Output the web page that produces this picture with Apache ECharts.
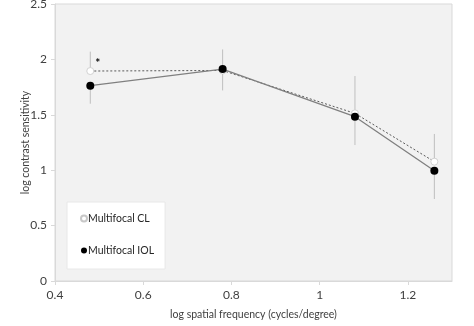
<!DOCTYPE html>
<html>
<head>
<meta charset="utf-8">
<script src="https://cdn.jsdelivr.net/npm/echarts@6/dist/echarts.min.js"></script>
<style>
  html, body { margin: 0; padding: 0; background: #fff; }
  #chart { width: 474px; height: 326px; }
</style>
</head>
<body>
<div id="chart"></div>
<script>
// log spatial frequency (cycles/degree)
const frequencies = [0.48, 0.78, 1.08, 1.26];
// mean log contrast sensitivity per lens type
const clValues  = [1.895, 1.90, 1.513, 1.077];
const iolValues = [1.763, 1.913, 1.483, 0.995];
// error bar ends: upward for CL, downward for IOL
const clUpper  = [2.07, 2.09, 1.85, 1.327];
const iolLower = [1.60, 1.72, 1.227, 0.74];
// significance marker
const starPoint = [0.497, 1.964];
const xTicks = { min: 0.4, max: 1.3, step: 0.2 };
const yTicks = { min: 0, max: 2.5, step: 0.5 };

const FONT = 'Lato';
const TEXT = '#404040';
const AXIS = '#d9d9d9';

const pairs = (xs, ys) => xs.map((x, i) => [x, ys[i]]);

const errorBars = [];
frequencies.forEach((f, i) => {
  errorBars.push([f, clValues[i], clUpper[i]]);
  errorBars.push([f, iolValues[i], iolLower[i]]);
});

const chart = echarts.init(document.getElementById('chart'), null, { renderer: 'canvas' });
chart.setOption({
  animation: false,
  textStyle: { fontFamily: FONT },
  grid: {
    left: 55, right: 22, top: 4, bottom: 45,
    outerBoundsMode: 'none',
    containLabel: false,
    show: true, backgroundColor: '#f2f2f2', borderColor: AXIS, borderWidth: 1
  },
  legend: {
    orient: 'vertical',
    left: 67, top: 202,
    backgroundColor: '#ffffff',
    borderColor: '#e8e8e8', borderWidth: 1,
    padding: [11, 11, 13, 13],
    itemGap: 21,
    itemWidth: 6, itemHeight: 6,
    icon: 'circle',
    textStyle: { fontFamily: FONT, fontSize: 10.5, color: '#262626', padding: [0, 0, 0, -4] },
    data: ['Multifocal CL', 'Multifocal IOL']
  },
  xAxis: {
    type: 'value',
    min: xTicks.min, max: xTicks.max, interval: xTicks.step,
    name: 'log spatial frequency (cycles/degree)',
    nameLocation: 'middle', nameGap: 28,
    nameMoveOverlap: false,
    nameTextStyle: { fontFamily: FONT, fontSize: 10.5, color: TEXT },
    axisLine: { show: true, lineStyle: { color: AXIS } },
    axisTick: { show: true, length: 4, lineStyle: { color: AXIS } },
    axisLabel: {
      fontFamily: FONT, fontSize: 12, color: TEXT, margin: 8,
      showMaxLabel: false,
      formatter: v => (Math.abs(v - xTicks.max) < 1e-9 ? '' : String(+v.toFixed(1)))
    },
    splitLine: { show: false }
  },
  yAxis: {
    type: 'value',
    min: yTicks.min, max: yTicks.max, interval: yTicks.step,
    name: 'log contrast sensitivity',
    nameLocation: 'middle', nameGap: 24,
    nameMoveOverlap: false,
    nameTextStyle: { fontFamily: FONT, fontSize: 10.5, color: TEXT },
    axisLine: { show: true, lineStyle: { color: AXIS } },
    axisTick: { show: true, length: 4, lineStyle: { color: AXIS } },
    axisLabel: {
      fontFamily: FONT, fontSize: 12, color: TEXT, margin: 8,
      formatter: v => String(+v.toFixed(1))
    },
    splitLine: { show: false }
  },
  series: [
    {
      type: 'custom',
      name: 'errors',
      silent: true,
      z: 1,
      data: errorBars,
      renderItem: (params, api) => {
        const a = api.coord([api.value(0), api.value(1)]);
        const b = api.coord([api.value(0), api.value(2)]);
        return {
          type: 'line',
          shape: { x1: a[0], y1: a[1], x2: b[0], y2: b[1] },
          style: { stroke: '#bfbfbf', lineWidth: 1 }
        };
      }
    },
    {
      type: 'line',
      name: 'Multifocal CL',
      z: 2,
      data: pairs(frequencies, clValues),
      symbol: 'circle', symbolSize: 7,
      itemStyle: { color: '#ffffff', borderColor: '#c8c8c8', borderWidth: 0.8 },
      lineStyle: { color: '#595959', width: 1, type: [2, 2] }
    },
    {
      type: 'line',
      name: 'Multifocal IOL',
      z: 3,
      data: pairs(frequencies, iolValues),
      symbol: 'circle', symbolSize: 8,
      itemStyle: { color: '#000000', borderWidth: 0 },
      lineStyle: { color: '#808080', width: 1.3 }
    },
    {
      type: 'custom',
      name: 'significance',
      silent: true,
      z: 4,
      data: [starPoint],
      renderItem: (params, api) => {
        const p = api.coord([api.value(0), api.value(1)]);
        return {
          type: 'text',
          x: p[0], y: p[1],
          style: {
            text: '*', fill: '#000', font: 'bold 12px ' + FONT,
            align: 'center', verticalAlign: 'middle'
          }
        };
      }
    }
  ]
});
</script>
</body>
</html>
